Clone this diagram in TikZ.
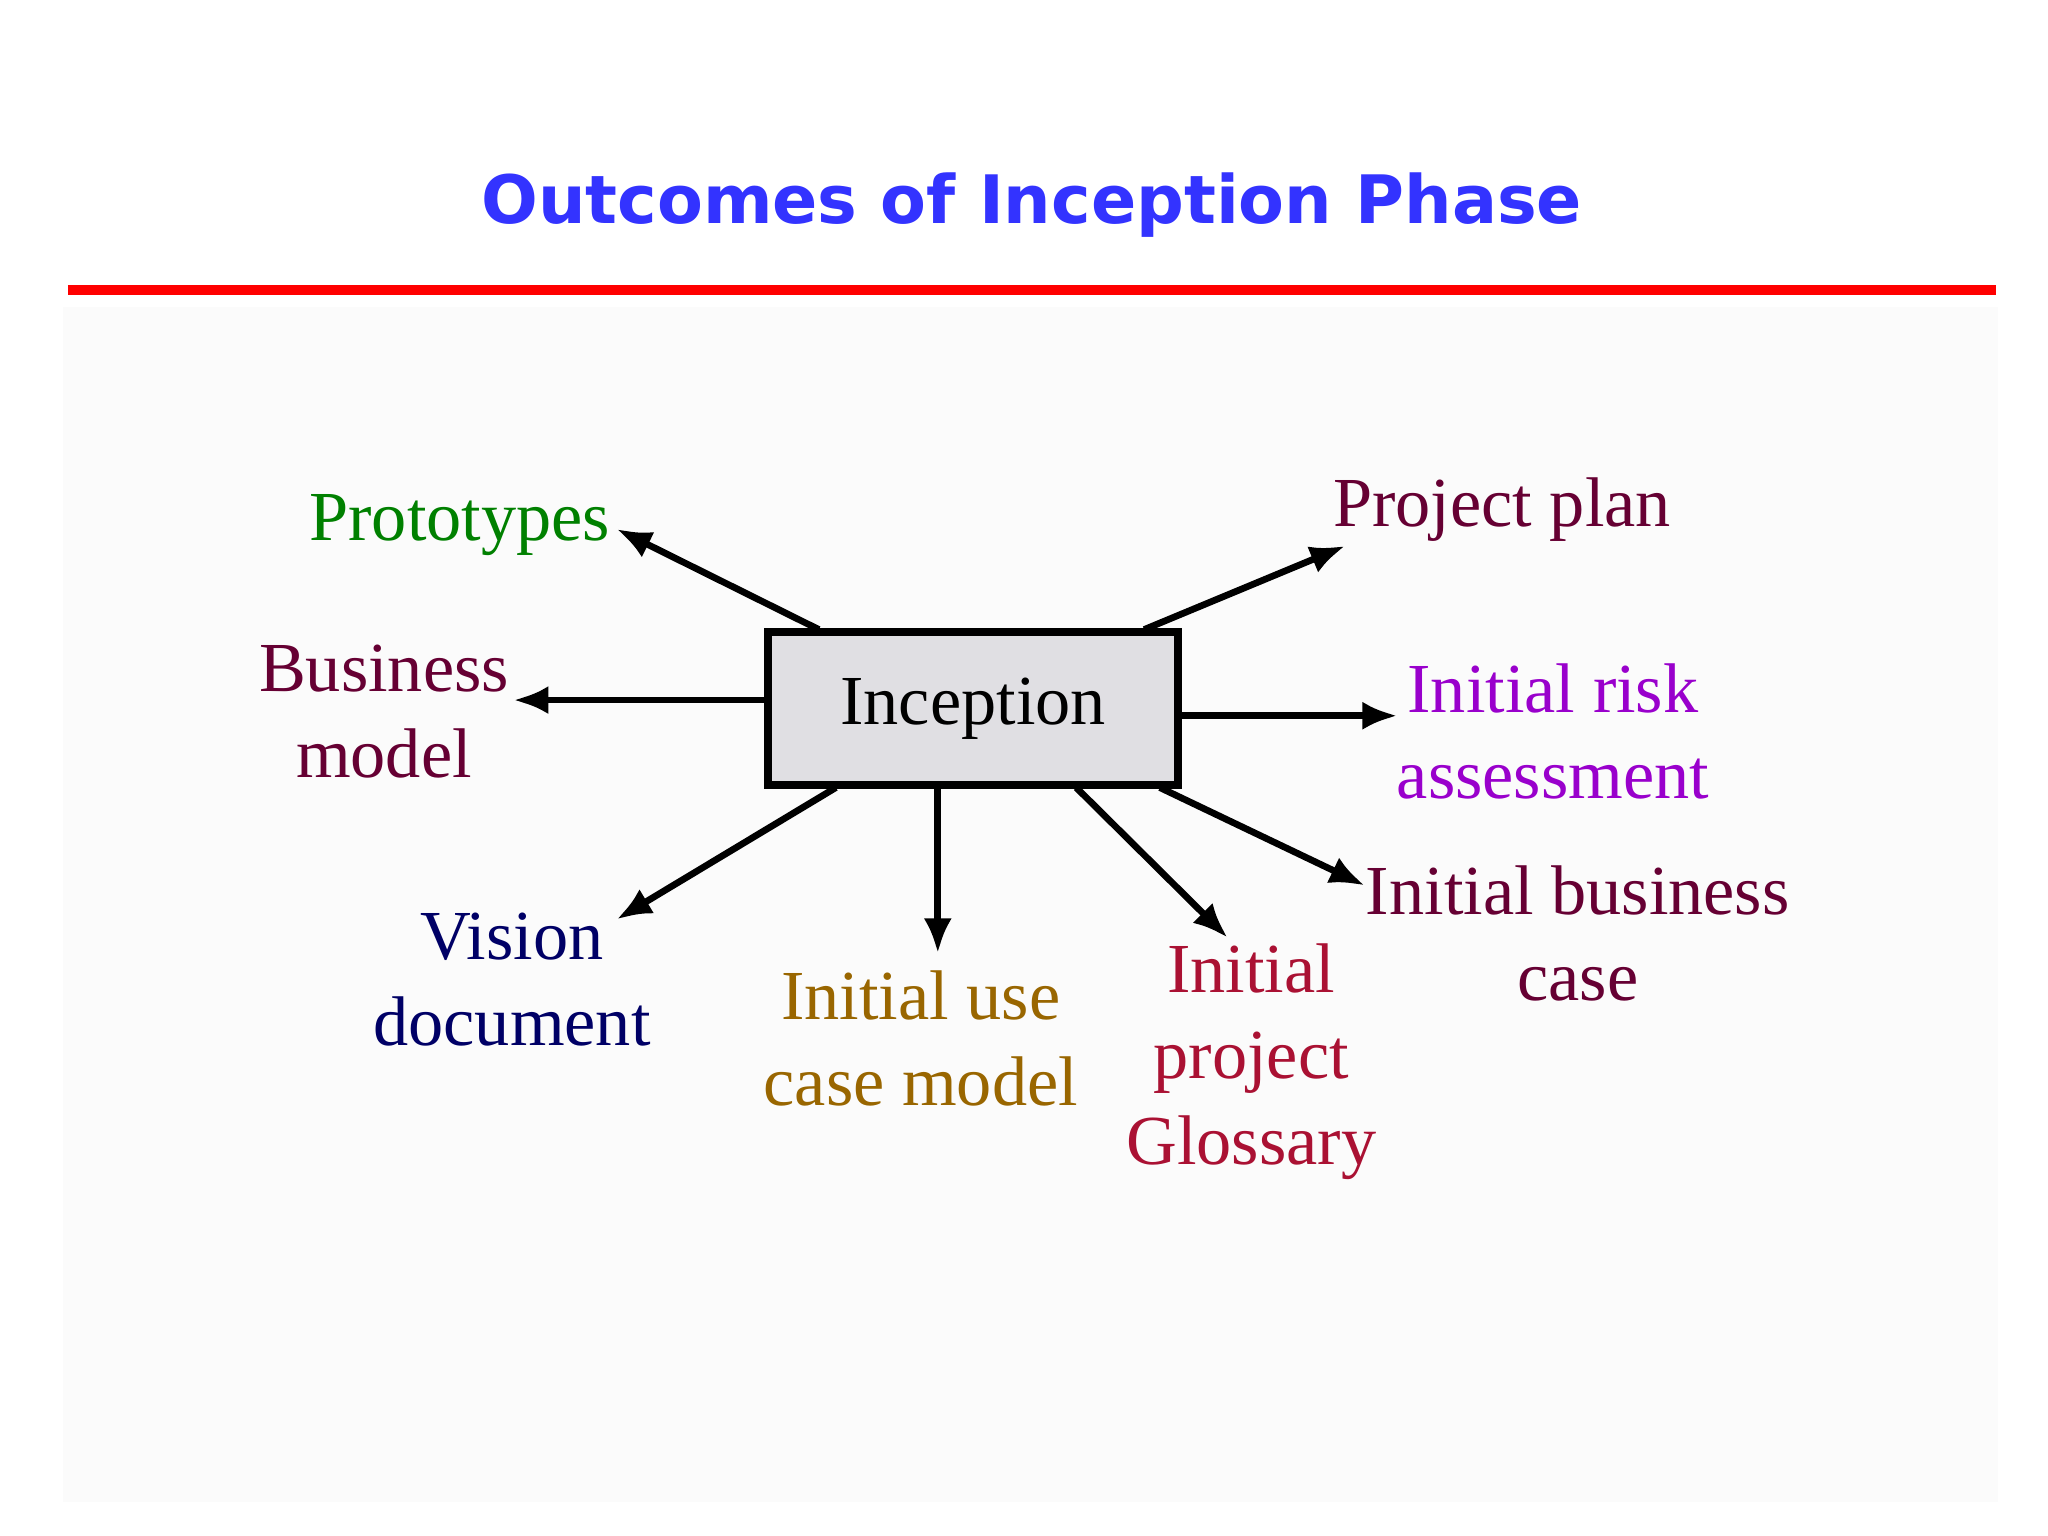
\documentclass[tikz,border=0pt]{standalone}
\usepackage{fontspec}
\setmainfont{Liberation Serif}
\newfontfamily\titlefont{DejaVu Sans}
\usetikzlibrary{arrows.meta}
\definecolor{ttl}{HTML}{3333FF}
\definecolor{maroon}{HTML}{660033}
\definecolor{grn}{HTML}{008000}
\definecolor{navy}{HTML}{000066}
\definecolor{gold}{HTML}{996600}
\definecolor{crim}{HTML}{AA1133}
\definecolor{purp}{HTML}{9900CC}
\definecolor{boxg}{HTML}{E0DFE3}
\begin{document}
\begin{tikzpicture}[x=0.013061cm,y=-0.013061cm,
  lbl/.style={font=\fontsize{20}{24.5}\selectfont,align=center,inner sep=0pt},
  arr/.style={-{Latex[length=10pt,width=8pt]},line width=1.9pt}]
\useasboundingbox (0,0) rectangle (1568,1176);
\fill[white] (0,0) rectangle (1568,1176);
\fill[gray!3] (48,235) rectangle (1530,1150);
\node[font=\titlefont\bfseries\fontsize{19}{22}\selectfont,text=ttl] (title) at (790,157) {Outcomes of Inception Phase};
\coordinate (l1) at (52,222); \coordinate (l2) at (1528,222);
\draw[red,line width=2.6pt] (l1) -- (l2);
\node[draw,line width=2.3pt,fill=boxg,minimum width=4.10cm,minimum height=1.53cm,inner sep=0pt,font=\fontsize{20}{24}\selectfont] (box) at (745,542.5) {Inception};
\node[lbl,text=grn] (proto) at (352,402) {Prototypes};
\node[lbl,text=maroon] (bm) at (294,545) {Business\\model};
\node[lbl,text=navy] (vis) at (392,750) {Vision\\document};
\node[lbl,text=gold] (uc) at (705,795) {Initial use\\case model};
\node[lbl,text=crim] (gl) at (958,813) {Initial\\project\\Glossary};
\node[lbl,text=maroon] (bc) at (1208,715) {Initial business\\case};
\node[lbl,text=purp] (risk) at (1189,560) {Initial risk\\assessment};
\node[lbl,text=maroon] (pp) at (1150,390) {Project plan};
\coordinate (s1) at (627,482); \coordinate (e1) at (472,405);
\coordinate (s2) at (586,536); \coordinate (e2) at (393,536);
\coordinate (s3) at (640,603); \coordinate (e3) at (472,704);
\coordinate (s4) at (718,603); \coordinate (e4) at (718,730);
\coordinate (s5) at (824,603); \coordinate (e5) at (940,718);
\coordinate (s6) at (888,603); \coordinate (e6) at (1045,678);
\coordinate (s7) at (902,548); \coordinate (e7) at (1070,548);
\coordinate (s8) at (876,482); \coordinate (e8) at (1030,418);
\foreach \i in {1,...,8} \draw[arr] (s\i) -- (e\i);
\end{tikzpicture}
\end{document}
